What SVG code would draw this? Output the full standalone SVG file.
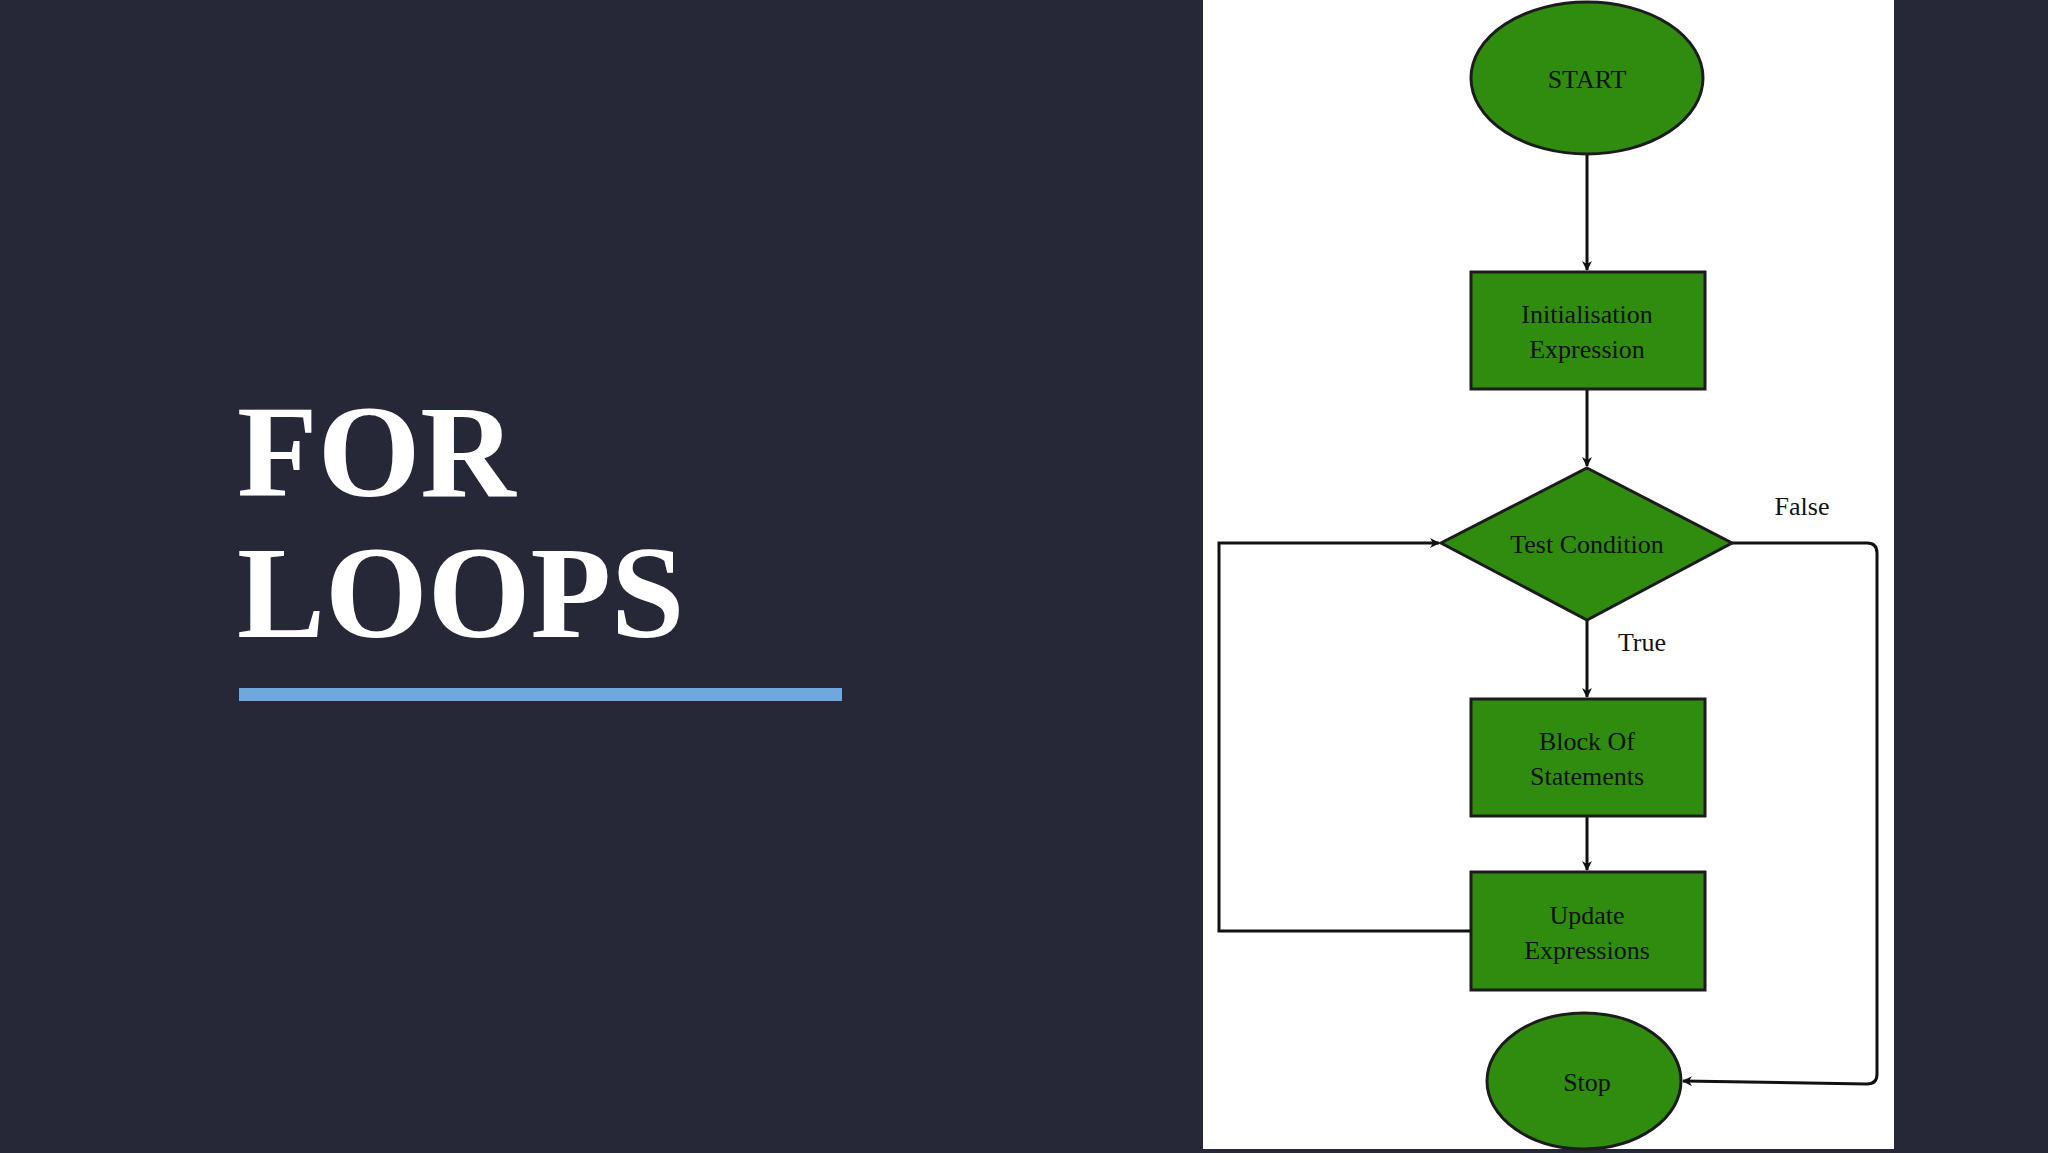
<svg xmlns="http://www.w3.org/2000/svg" width="2048" height="1153" viewBox="0 0 2048 1153">
<style>
.n{fill:#2f8c0f;stroke:#1c1c1c;stroke-width:3}
.t{font-family:"Liberation Serif",serif;font-size:26px;fill:#111;text-anchor:middle}
.c{fill:none;stroke:#111;stroke-width:3}
</style>
<defs><marker id="a" markerWidth="10" markerHeight="10" refX="9" refY="5" orient="auto" markerUnits="userSpaceOnUse" viewBox="0 0 10 10"><path d="M0,0L10,5L0,10L3,5Z" fill="#111"/></marker></defs>
<rect width="2048" height="1153" fill="#262837"/>
<rect x="1203" y="0" width="691" height="1149" fill="#fff"/>
<g id="title" font-family="'Liberation Serif',serif" font-weight="bold" font-size="132" fill="#fff">
<text x="237" y="496">FOR</text><text x="237" y="637">LOOPS</text></g>
<rect x="239" y="688" width="603" height="13" fill="#6fa8dc"/>
<g id="connectors">
<line class="c" x1="1587" y1="154" x2="1587" y2="270" marker-end="url(#a)"/>
<line class="c" x1="1587" y1="389" x2="1587" y2="466" marker-end="url(#a)"/>
<line class="c" x1="1587" y1="620" x2="1587" y2="697" marker-end="url(#a)"/>
<line class="c" x1="1587" y1="816" x2="1587" y2="870" marker-end="url(#a)"/>
<polyline class="c" points="1471,931 1219,931 1219,543 1439,543" marker-end="url(#a)"/>
<path class="c" d="M1732,543H1867Q1877,543 1877,553V1074Q1877,1084 1867,1084L1683,1081" marker-end="url(#a)"/>
<text class="t" x="1802" y="515">False</text>
<text class="t" x="1642" y="651">True</text>
</g>
<g id="start"><ellipse class="n" cx="1587" cy="78" rx="116" ry="76"/><text class="t" x="1587" y="88">START</text></g>
<g id="init"><rect class="n" x="1471" y="272" width="234" height="117"/><text class="t" x="1587" y="323">Initialisation</text><text class="t" x="1587" y="358">Expression</text></g>
<g id="test"><polygon class="n" points="1587,468 1732,543 1587,620 1441,543"/><text class="t" x="1587" y="553">Test Condition</text></g>
<g id="block"><rect class="n" x="1471" y="699" width="234" height="117"/><text class="t" x="1587" y="750">Block Of</text><text class="t" x="1587" y="785">Statements</text></g>
<g id="update"><rect class="n" x="1471" y="872" width="234" height="118"/><text class="t" x="1587" y="924">Update</text><text class="t" x="1587" y="959">Expressions</text></g>
<g id="stop"><ellipse class="n" cx="1584" cy="1081" rx="97" ry="68"/><text class="t" x="1587" y="1091">Stop</text></g>
</svg>
